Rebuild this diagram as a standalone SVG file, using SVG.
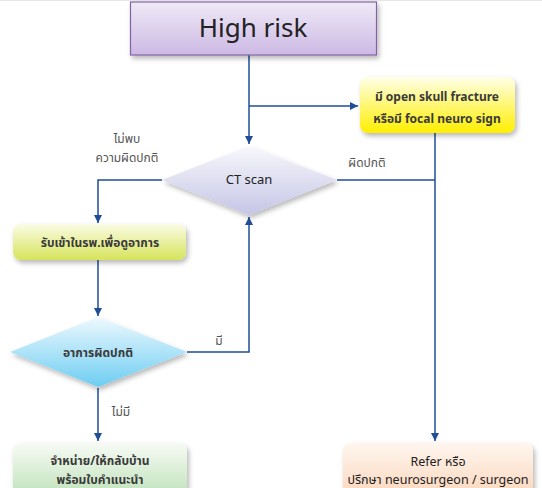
<svg xmlns="http://www.w3.org/2000/svg" width="542" height="488" viewBox="0 0 542 488">
<defs>
<style>
.t{font-family:"Noto Sans","Noto Sans Thai","DejaVu Sans",sans-serif;text-anchor:middle;fill:#222}
.b{font-size:12px;font-weight:bold;fill:#3a3a3a}
.l{font-size:12px;fill:#555}
.c{fill:none;stroke:#1F4E96;stroke-width:1.5}
</style>
<linearGradient id="gP" x1="0" y1="0" x2="0" y2="1"><stop offset="0" stop-color="#EFEAF7"/><stop offset="1" stop-color="#CDB9E4"/></linearGradient>
<linearGradient id="gY" x1="0" y1="0" x2="0" y2="1"><stop offset="0" stop-color="#FFFFE8"/><stop offset="1" stop-color="#FFEE00"/></linearGradient>
<linearGradient id="gCT" x1="0" y1="0" x2="0" y2="1"><stop offset="0" stop-color="#F8F8FC"/><stop offset="1" stop-color="#C5C5E6"/></linearGradient>
<linearGradient id="gLY" x1="0" y1="0" x2="0" y2="1"><stop offset="0" stop-color="#FBFCE6"/><stop offset="1" stop-color="#D6E45A"/></linearGradient>
<linearGradient id="gB" x1="0" y1="0" x2="0" y2="1"><stop offset="0" stop-color="#EEF9FE"/><stop offset="1" stop-color="#6DCDF2"/></linearGradient>
<linearGradient id="gG" x1="0" y1="0" x2="0" y2="1"><stop offset="0" stop-color="#F7FBF5"/><stop offset="1" stop-color="#B9DFB3"/></linearGradient>
<linearGradient id="gO" x1="0" y1="0" x2="0" y2="1"><stop offset="0" stop-color="#FFF6EF"/><stop offset="1" stop-color="#FBD3B6"/></linearGradient>
<filter id="sh" x="-10%" y="-10%" width="125%" height="135%"><feDropShadow dx="2" dy="3" stdDeviation="2.5" flood-color="#000" flood-opacity="0.28"/></filter>
<marker id="ar" viewBox="0 0 10 10" refX="10" refY="5" markerWidth="8" markerHeight="8" markerUnits="userSpaceOnUse" orient="auto"><path d="M0,0L10,5L0,10z" fill="#1F4E96"/></marker>
</defs>
<rect x="0" y="0" width="542" height="488" fill="#fff"/>
<line x1="0" y1="0.5" x2="542" y2="0.5" stroke="#E6E6E6" stroke-width="1"/>

<g id="connectors">
<path class="c" d="M249,55V144" marker-end="url(#ar)"/>
<path class="c" d="M249,106H358" marker-end="url(#ar)"/>
<path class="c" d="M435,133V441" marker-end="url(#ar)"/>
<path class="c" d="M337,180H435"/>
<path class="c" d="M162,180H98V223" marker-end="url(#ar)"/>
<path class="c" d="M98,260V316" marker-end="url(#ar)"/>
<path class="c" d="M187,352H249V217" marker-end="url(#ar)"/>
<path class="c" d="M98,388V441" marker-end="url(#ar)"/>
<text class="t l" x="127" y="143">ไม่พบ</text>
<text class="t l" x="127" y="162">ความผิดปกติ</text>
<text class="t l" x="367" y="167">ผิดปกติ</text>
<text class="t l" x="219" y="345">มี</text>
<text class="t l" x="121" y="416">ไม่มี</text>
</g>

<g id="high-risk">
<rect x="130.5" y="2" width="246" height="53" fill="url(#gP)" stroke="#8064A2" stroke-width="1.2" filter="url(#sh)"/>
<text class="t" x="253" y="37" font-size="26" fill="#111">High risk</text>
</g>

<g id="skull-fracture">
<rect x="360" y="77" width="155" height="56" rx="8" fill="url(#gY)" filter="url(#sh)"/>
<text class="t b" x="437" y="101">มี open skull fracture</text>
<text class="t b" x="437" y="123">หรือมี focal neuro sign</text>
</g>

<g id="ct-scan">
<polygon points="249,146 337,180 249,215 162,180" fill="url(#gCT)" filter="url(#sh)"/>
<text class="t" x="249" y="184" font-size="13" fill="#333">CT scan</text>
</g>

<g id="admit">
<rect x="13" y="224" width="173" height="36" rx="8" fill="url(#gLY)" filter="url(#sh)"/>
<text class="t b" x="100" y="247">รับเข้าในรพ.เพื่อดูอาการ</text>
</g>

<g id="abnormal">
<polygon points="98,317 187,352 98,387 10,352" fill="url(#gB)" filter="url(#sh)"/>
<text class="t b" x="98" y="357">อาการผิดปกติ</text>
</g>

<g id="discharge">
<rect x="13" y="443" width="174" height="60" rx="8" fill="url(#gG)" filter="url(#sh)"/>
<text class="t b" x="100" y="465">จำหน่าย/ให้กลับบ้าน</text>
<text class="t b" x="100" y="484">พร้อมใบคำแนะนำ</text>
</g>

<g id="refer">
<rect x="343" y="443" width="190" height="60" rx="8" fill="url(#gO)" filter="url(#sh)"/>
<text class="t" x="438" y="466" font-size="12.5" fill="#333">Refer หรือ</text>
<text class="t" x="438" y="484" font-size="12.5" fill="#333">ปรึกษา neurosurgeon / surgeon</text>
</g>
</svg>
